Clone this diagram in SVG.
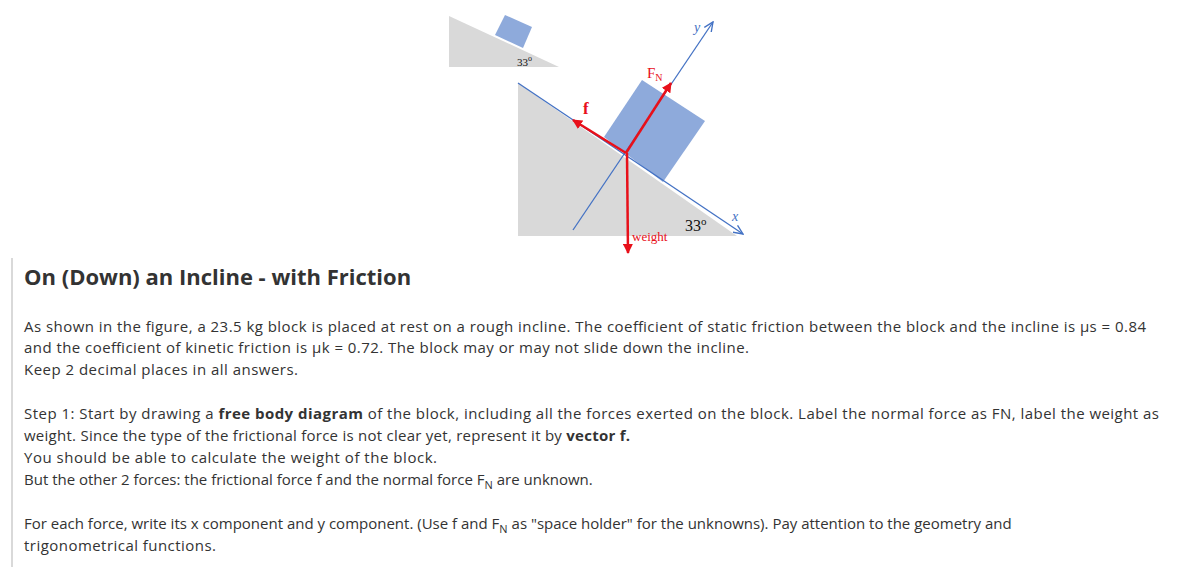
<svg xmlns="http://www.w3.org/2000/svg" width="1179" height="567" viewBox="0 0 1179 567">
<style>
.t{font-family:"Open Sans",sans-serif;font-size:15px;fill:#333}
.h{font-family:"Open Sans",sans-serif;font-size:22px;font-weight:bold;fill:#333}
.s{font-family:"Liberation Serif",serif}
.red{stroke:#e8101a;stroke-width:2.5;fill:none}
</style>
<defs>
<marker id="ra" viewBox="0 0 10 10" refX="9" refY="5" markerWidth="4" markerHeight="4" orient="auto"><path d="M0,0L10,5L0,10z" fill="#e8101a"/></marker>
<marker id="ba" viewBox="0 0 10 10" refX="9" refY="5" markerWidth="8" markerHeight="8" orient="auto"><path d="M0,1L9,5L0,9" fill="none" stroke="#4472c4" stroke-width="1.3"/></marker>
</defs>
<rect width="1179" height="567" fill="#fff"/>
<line x1="12" y1="258" x2="12" y2="567" stroke="#ccc" stroke-width="1.5"/>
<g id="small-incline">
<polygon points="449,16 449,67 559,67" fill="#d9d9d9"/>
<polygon points="495,35 505,15 532,27 523,48" fill="#8eaadb"/>
<text x="517" y="66" class="s" font-size="11" fill="#111">33<tspan font-size="8" dy="-5">o</tspan></text>
</g>
<g id="big-incline">
<polygon points="518,83 518,236 737,236" fill="#d9d9d9"/>
<polygon points="604,137 642,80 705,121 663,182" fill="#8eaadb"/>
<text x="685" y="231" class="s" font-size="16" fill="#111">33<tspan font-size="11" dy="-6">o</tspan></text>
</g>
<g id="connectors">
<line x1="518" y1="83" x2="743" y2="234" stroke="#4472c4" stroke-width="1.3" marker-end="url(#ba)"/>
<line x1="573" y1="230" x2="713" y2="22" stroke="#4472c4" stroke-width="1.3" marker-end="url(#ba)"/>
<line x1="626" y1="153" x2="671" y2="83" class="red" marker-end="url(#ra)"/>
<line x1="626" y1="153" x2="573" y2="120" class="red" marker-end="url(#ra)"/>
<line x1="627" y1="153" x2="628" y2="253" class="red" marker-end="url(#ra)"/>
</g>
<g id="labels">
<text x="694" y="32" class="s" font-size="14" font-style="italic" fill="#4472c4">y</text>
<text x="732" y="221" class="s" font-size="14" font-style="italic" fill="#4472c4">x</text>
<text x="647" y="78" class="s" font-size="15" fill="#e8101a">F<tspan font-size="10" dy="3">N</tspan></text>
<text x="583" y="114" class="s" font-size="17" font-weight="bold" fill="#e8101a">f</text>
<text x="632" y="241" class="s" font-size="13" fill="#e8101a">weight</text>
</g>
<text x="24" y="285" class="h">On (Down) an Incline - with Friction</text>
<text x="24" y="332" class="t" textLength="1122">As shown in the figure, a 23.5 kg block is placed at rest on a rough incline. The coefficient of static friction between the block and the incline is μs = 0.84</text>
<text x="24" y="353" class="t" textLength="725">and the coefficient of kinetic friction is μk = 0.72. The block may or may not slide down the incline.</text>
<text x="24" y="375" class="t" textLength="274">Keep 2 decimal places in all answers.</text>
<text x="24" y="419" class="t" textLength="1135">Step 1: Start by drawing a <tspan font-weight="bold">free body diagram</tspan> of the block, including all the forces exerted on the block. Label the normal force as FN, label the weight as</text>
<text x="24" y="441" class="t" textLength="606">weight. Since the type of the frictional force is not clear yet, represent it by <tspan font-weight="bold">vector f.</tspan></text>
<text x="24" y="463" class="t" textLength="413">You should be able to calculate the weight of  the block.</text>
<text x="24" y="485" class="t">But the other 2 forces: the frictional force f and the normal force F<tspan font-size="11" dy="4">N</tspan><tspan dy="-4"> are unknown.</tspan></text>
<text x="24" y="529" class="t">For each force, write its x component and y component. (Use f and F<tspan font-size="11" dy="4">N</tspan><tspan dy="-4"> as "space holder" for the unknowns). Pay attention to the geometry and</tspan></text>
<text x="24" y="551" class="t" textLength="192">trigonometrical functions.</text>
</svg>
